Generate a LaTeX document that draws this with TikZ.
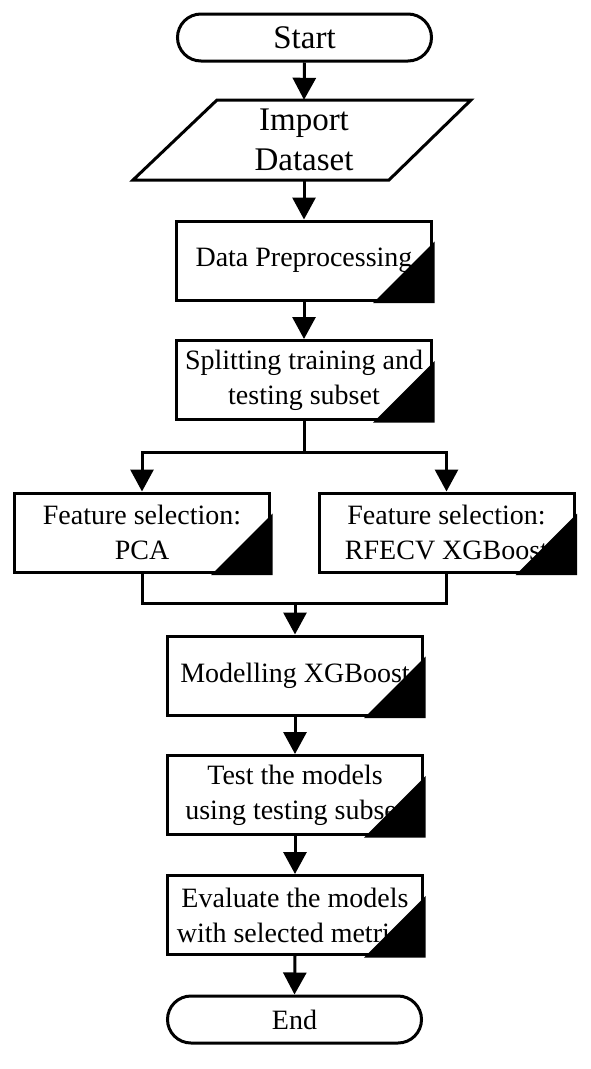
\documentclass[tikz,border=0pt]{standalone}
\usepackage{fontspec}
\setmainfont{Liberation Serif}
\usetikzlibrary{arrows.meta,shapes.misc,positioning}
\begin{document}
\begin{tikzpicture}[x=1pt,y=-1pt,
  line/.style={line width=3pt,line join=miter},
  arr/.style={line,-{Triangle[length=22pt,width=23pt]}},
  term/.style={rounded rectangle,draw,line width=3pt,minimum width=254pt,minimum height=47pt,inner sep=0pt,font=\fontsize{33}{40}\selectfont},
  proc/.style={rectangle,draw,line width=3pt,minimum width=255pt,minimum height=79pt,inner sep=0pt,align=center,font=\fontsize{28}{35}\selectfont},
  corner/.style={fill=black}
]
\useasboundingbox (0,0) rectangle (591,1069);

% nodes
\node[term] (start) at (304.5,37.5) {Start};
\node[minimum width=250pt,minimum height=80pt,inner sep=0pt,align=center,font=\fontsize{33}{40}\selectfont] (imp) at (304,140) {Import\\Dataset};
\draw[line] (217,100) -- (471,100) -- (389,180) -- (133,180) -- cycle;

\node[proc] (pre) at (304,260.5) {Data Preprocessing};
\node[proc] (split) at (304,380) {Splitting training and\\testing subset};
\node[proc] (fpca) at (142,532.5) {Feature selection:\\PCA};
\node[proc] (frfe) at (446.5,532.5) {Feature selection:\\RFECV XGBoost};
\node[proc] (model) at (295,675.5) {Modelling XGBoost};
\node[proc] (test) at (295,795) {Test the models\\using testing subset};
\node[proc] (eval) at (295,915) {Evaluate the models\\with selected metrics};
\node[term,font=\fontsize{28}{34}\selectfont] (end) at (294.5,1019.5) {End};

% black corner triangles
\foreach \n in {pre,split,fpca,frfe,model,test,eval}{
  \fill[corner] ([xshift=-60pt,yshift=-1.5pt]\n.south east) -- ([xshift=1.5pt,yshift=-1.5pt]\n.south east) -- ([xshift=1.5pt,yshift=60pt]\n.south east) -- cycle;
}

% connectors
\coordinate (sj) at (304,452);
\coordinate (mj) at (295,603);
\draw[arr] (start.south) -- (imp.north);
\draw[arr] (imp.south) -- (pre.north);
\draw[arr] (pre.south) -- (split.north);
\draw[line] (split.south) -- (sj);
\draw[arr] (sj) -| (fpca.north);
\draw[arr] (sj) -| (frfe.north);
\draw[line] (fpca.south) |- (mj);
\draw[line] (frfe.south) |- (mj);
\draw[arr] (mj) -- (model.north);
\draw[arr] (model.south) -- (test.north);
\draw[arr] (test.south) -- (eval.north);
\draw[arr] (eval.south) -- (end.north);
\end{tikzpicture}
\end{document}
